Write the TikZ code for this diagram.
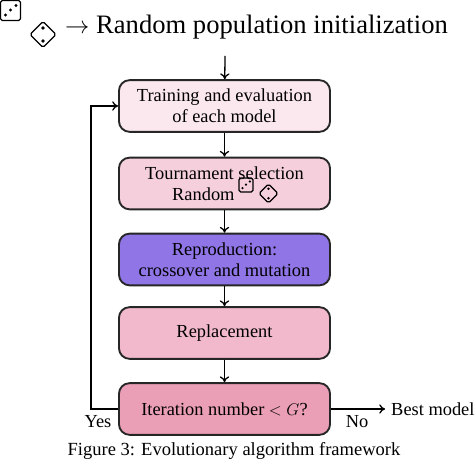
\documentclass[tikz,border=0pt]{standalone}
\usepackage{fontspec}
\setmainfont{Liberation Serif}
\usepackage{amsmath}
\usetikzlibrary{positioning, calc, arrows.meta}
\definecolor{trainfill}{HTML}{FBE8EE}
\definecolor{selectfill}{HTML}{F5CFDB}
\definecolor{reprofill}{HTML}{8F75E6}
\definecolor{replacefill}{HTML}{F1B9CB}
\definecolor{iterfill}{HTML}{EB9FB6}
\tikzset{
    stagebox/.style={draw=black!85, line width=1.6pt, rounded corners=9pt, minimum width=6.33cm, minimum height=1.55cm, align=center, font=\fontsize{15.7}{18}\selectfont},
    flowline/.style={-{To[length=5pt,width=8pt]}, line width=1.1pt},
    plainlabel/.style={font=\fontsize{15.7}{17}\selectfont, inner sep=0pt},
    pics/threedie/.style={code={
        \draw[line width=1.1pt, rounded corners=1.5pt] (-1,-1) rectangle (1,1);
        \foreach \p in {(-0.5,-0.45),(0,0.05),(0.55,0.5)} \fill \p circle (0.17);
    }},
    pics/twodie/.style={code={
        \draw[line width=1.1pt, rounded corners=1.5pt] (-1,0)--(0,1)--(1,0)--(0,-1)--cycle;
        \foreach \p in {(0,0.5),(0,-0.5)} \fill \p circle (0.14);
    }},
}
\begin{document}
\begin{tikzpicture}[x=0.03cm,y=0.03cm]
        \useasboundingbox (0,0) rectangle (474,460);
        \clip (0,0) rectangle (474,460);
        %dadi in alto
            \pic[scale=10] at (10.5,449.5) {threedie};
            \pic[scale=13] at (43,425.5) {twodie};
        %titolo
            \node (title) at (65,426) [anchor=base west, inner sep=0pt]{\fontsize{22.7}{26}\selectfont $\rightarrow$ Random population initialization};
            \coordinate (start) at (225,404);
        %blocchi
            \node[stagebox, fill=trainfill] (train) at (224.5,354) {Training and evaluation\\of each model};
            \node[stagebox, fill=selectfill] (select) at (224.5,276.5) {Tournament selection\\Random\hspace*{2.3em}};
            \node[stagebox, fill=reprofill] (repro) at (224.5,200.5) {Reproduction:\\crossover and mutation};
            \node[stagebox, fill=replacefill] (replace) at (224.5,127) {Replacement};
            \node[stagebox, fill=iterfill] (iter) at (224.5,51) {Iteration number $<G$?};
        %dadi piccoli
            \pic[scale=7] at (246,275) {threedie};
            \pic[scale=9.5] at (268.5,266.5) {twodie};
        %collegamenti
            \draw[flowline] (start)-- (train);
            \draw[flowline] (train)-- (select);
            \draw[flowline] (select)-- (repro);
            \draw[flowline] (repro)-- (replace);
            \draw[flowline] (replace)-- (iter);
            \draw[flowline] (iter.west)--++ (-27,0) |- (train.west);
            \node[plainlabel, anchor=west] (best) at (391,51) {Best model};
            \draw[flowline, shorten >=5pt] (iter.east)-- (best.west);
        %label
            \node[plainlabel] (yes) at (98,38) {Yes};
            \node[plainlabel] (no) at (357,38) {No};
            \node (caption) at (234,4.5) [anchor=base, inner sep=0pt]{\fontsize{15.8}{18}\selectfont Figure 3: Evolutionary algorithm framework};
    \end{tikzpicture}
\end{document}
